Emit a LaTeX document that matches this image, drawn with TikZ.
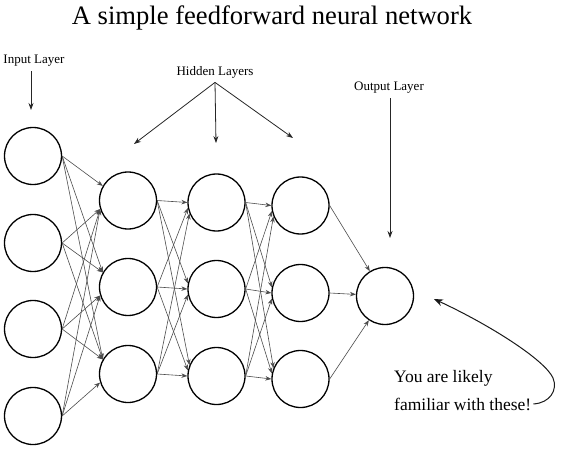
\documentclass[tikz,border=0pt]{standalone}
\usepackage{fontspec}
\setmainfont{Liberation Serif}
\usetikzlibrary{arrows.meta}
\begin{document}
\begin{tikzpicture}[x=1pt,y=-1pt,
  neuron/.style={circle,draw=black,line width=1.3pt,minimum size=57pt,inner sep=0pt},
  conn/.style={draw=black!70,line width=0.6pt,-{Stealth[length=6pt,width=4.5pt]}},
  lbl/.style={font=\fontsize{13}{15}\selectfont,inner sep=0pt,outer sep=4.5pt},
  pointer/.style={draw=black!85,line width=0.8pt,-{Stealth[length=7pt,width=5pt]}},
  note/.style={font=\fontsize{17.5}{20}\selectfont,inner sep=2pt,anchor=base west}]
\useasboundingbox (0,0) rectangle (562,449);
% title
\node[anchor=base,font=\fontsize{26.6}{30}\selectfont,inner sep=0pt] (title) at (272,25) {A simple feedforward neural network};
% neurons
\node[neuron] (i1) at (33,156) {};
\node[neuron] (i2) at (33,243) {};
\node[neuron] (i3) at (33,329) {};
\node[neuron] (i4) at (33,416) {};
\node[neuron] (a1) at (128,200.5) {};
\node[neuron] (a2) at (128,287) {};
\node[neuron] (a3) at (128,374) {};
\node[neuron] (b1) at (216.5,202.5) {};
\node[neuron] (b2) at (216.5,289) {};
\node[neuron] (b3) at (216.5,376) {};
\node[neuron] (c1) at (300.5,205.5) {};
\node[neuron] (c2) at (300.5,293) {};
\node[neuron] (c3) at (300.5,379) {};
\node[neuron] (o) at (385,296) {};
% connections
\foreach \s in {1,2,3,4} \foreach \t in {1,2,3} {
  \pgfmathtruncatemacro\ang{\s<=\t ? 150 : 197}
  \draw[conn] (i\s.east) -- (a\t.\ang);
}
\foreach \s in {1,2,3} \foreach \t in {1,2,3} {
  \pgfmathtruncatemacro\ang{180-11*(\t-\s)}
  \draw[conn] (a\s.east) -- (b\t.\ang);
  \draw[conn] (b\s.east) -- (c\t.\ang);
}
\foreach \s in {c1,c2,c3} \draw[conn] (\s.east) -- (o);
% labels
\node[lbl] (inl) at (34,61) {Input Layer};
\node[lbl] (hl) at (215,72) {Hidden Layers};
\node[lbl] (outl) at (389,88) {Output Layer};
\coordinate (inTip) at (31,110);
\coordinate (hTipA) at (134,144);
\coordinate (hTipB) at (216,143);
\coordinate (hTipC) at (293,138);
\coordinate (oTip) at (390,238);
\draw[pointer] (inl.south -| inTip) -- (inTip);
\draw[pointer] (hl.south) -- (hTipA);
\draw[pointer] (hl.south) -- (hTipB);
\draw[pointer] (hl.south) -- (hTipC);
\draw[pointer] (outl.south -| oTip) -- (oTip);
% note
\node[note] (you) at (392,382) {You are likely};
\node[note] (fam) at (392,410) {familiar with these!};
\coordinate (noteTip) at (434,299);
\draw[draw=black!90,line width=1pt,-{Stealth[length=9pt,width=7pt]}]
  (fam.east) .. controls (550,403) and (558,390) .. (553,378)
  .. controls (545,360) and (490,325) .. (noteTip);
\end{tikzpicture}
\end{document}
